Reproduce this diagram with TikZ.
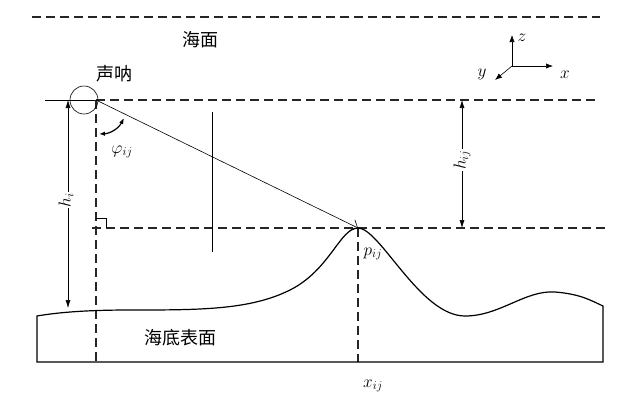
\documentclass[tikz,border=0pt]{standalone}
\usepackage{fontspec}
\newfontfamily\cjk{Noto Sans CJK SC}
\usetikzlibrary{arrows.meta}
\begin{document}
\begin{tikzpicture}[x=1pt,y=-1pt,
  dashline/.style={line width=2.2pt,dash pattern=on 9pt off 5pt,black!85},
  thin1/.style={line width=0.6pt},
  dim/.style={thin1,{Latex[length=8pt,width=5pt]}-{Latex[length=8pt,width=5pt]}},
  lab/.style={font=\cjk\fontsize{18}{18}\selectfont},
  mlab/.style={font=\fontsize{18}{18}\selectfont}]
\useasboundingbox (0,0) rectangle (642,408);
\coordinate (S) at (96,100);
\coordinate (P) at (358,228);
\coordinate (B1) at (96,362);
\coordinate (B2) at (358,362);
\draw[dashline] (32,17) -- (600,17);
\node[lab] (sea) at (200,40) {海面};
\draw[thin1] (45,100) -- (S);
\draw[dashline] (S) -- (597,100);
\draw[dashline] (92,228) -- (605,228);
\draw[dashline] (S) -- (B1);
\draw[dashline] (P) -- (B2);
\node[draw,circle,minimum size=28pt,inner sep=0pt,thin1] (son) at (84,100) {};
\node[lab] (sonl) at (114,74) {声呐};
\draw[thin1,-{Straight Barb[length=6pt]}] (S) -- (P);
\draw[thin1] (212,112) -- (212,252);
\draw[thin1] (96,218) -- (106,218) -- (106,228);
\draw[line width=1.2pt] (37,362) -- (37,316) .. controls (60,312) and (90,310) .. (130,310)
  .. controls (200,310) and (250,310) .. (290,290)
  .. controls (330,270) and (340,228) .. (358,228)
  .. controls (380,228) and (420,316) .. (465,316)
  .. controls (500,316) and (525,290) .. (555,292)
  .. controls (580,294) and (590,300) .. (603,306) -- (603,362) -- cycle;
\node[lab] (bed) at (180,338) {海底表面};
\coordinate (hA) at (68,100); \coordinate (hB) at (68,308);
\draw[dim] (hA) -- (hB);
\node[mlab,rotate=90,fill=white,inner sep=1pt] (hi) at (66,200) {$h_i$};
\coordinate (hC) at (462,100); \coordinate (hD) at (462,228);
\draw[dim] (hC) -- (hD);
\node[mlab,rotate=90,fill=white,inner sep=1pt] (hij) at (462,160) {$h_{ij}$};
\draw[line width=1.2pt,{Latex[length=6pt]}-{Latex[length=6pt]}] (99,134) to[bend right=30] (124,118);
\node[mlab] (phi) at (122,152) {$\varphi_{ij}$};
\node[mlab] (pij) at (373,254) {$p_{ij}$};
\node[mlab] (xij) at (373,386) {$x_{ij}$};
\coordinate (O) at (512,66);
\coordinate (Z) at (512,35); \coordinate (X) at (553,66); \coordinate (Y) at (495,80);
\draw[thin1,-{Latex[length=7pt]}] (O) -- (Z);
\draw[thin1,-{Latex[length=7pt]}] (O) -- (X);
\draw[thin1,-{Latex[length=7pt]}] (O) -- (Y);
\node[mlab] (zl) at (522,38) {$z$};
\node[mlab] (xl) at (565,75) {$x$};
\node[mlab] (yl) at (482,74) {$y$};
\end{tikzpicture}
\end{document}
